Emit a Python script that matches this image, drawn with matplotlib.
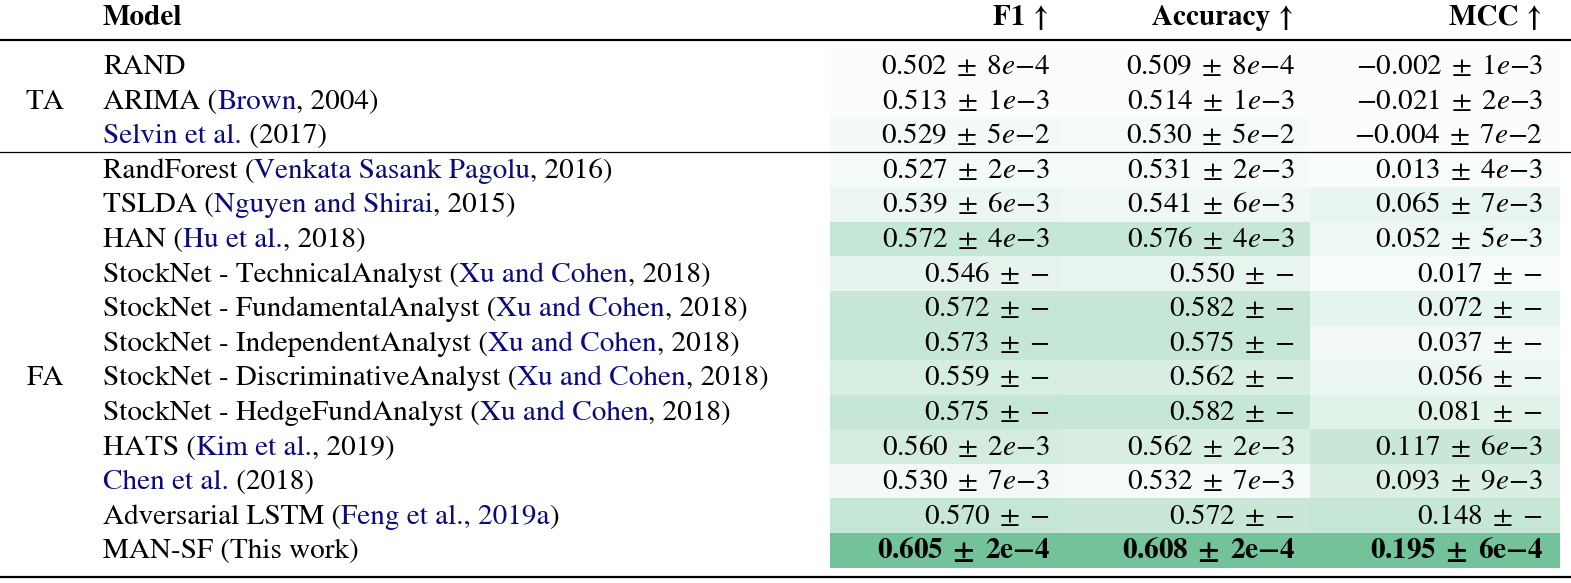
import numpy as np
import matplotlib.pyplot as plt

plt.rcParams['font.family'] = ['STIXGeneral', 'DejaVu Serif']
plt.rcParams['mathtext.fontset'] = 'stix'

# model name pieces: (plain prefix, citation, plain suffix)
models = [
    ("RAND", "", ""),
    ("ARIMA (", "Brown", ", 2004)"),
    ("", "Selvin et al.", " (2017)"),
    ("RandForest (", "Venkata Sasank Pagolu", ", 2016)"),
    ("TSLDA (", "Nguyen and Shirai", ", 2015)"),
    ("HAN (", "Hu et al.", ", 2018)"),
    ("StockNet - TechnicalAnalyst (", "Xu and Cohen", ", 2018)"),
    ("StockNet - FundamentalAnalyst (", "Xu and Cohen", ", 2018)"),
    ("StockNet - IndependentAnalyst (", "Xu and Cohen", ", 2018)"),
    ("StockNet - DiscriminativeAnalyst (", "Xu and Cohen", ", 2018)"),
    ("StockNet - HedgeFundAnalyst (", "Xu and Cohen", ", 2018)"),
    ("HATS (", "Kim et al.", ", 2019)"),
    ("", "Chen et al.", " (2018)"),
    ("Adversarial LSTM (", "Feng et al., 2019a", ")"),
    ("MAN-SF (This work)", "", ""),
]
f1 = [0.502, 0.513, 0.529, 0.527, 0.539, 0.572, 0.546, 0.572, 0.573, 0.559, 0.575, 0.560, 0.530, 0.570, 0.605]
f1_err = ["8e-4", "1e-3", "5e-2", "2e-3", "6e-3", "4e-3", "", "", "", "", "", "2e-3", "7e-3", "", "2e-4"]
acc = [0.509, 0.514, 0.530, 0.531, 0.541, 0.576, 0.550, 0.582, 0.575, 0.562, 0.582, 0.562, 0.532, 0.572, 0.608]
acc_err = ["8e-4", "1e-3", "5e-2", "2e-3", "6e-3", "4e-3", "", "", "", "", "", "2e-3", "7e-3", "", "2e-4"]
mcc = [-0.002, -0.021, -0.004, 0.013, 0.065, 0.052, 0.017, 0.072, 0.037, 0.056, 0.081, 0.117, 0.093, 0.148, 0.195]
mcc_err = ["1e-3", "2e-3", "7e-2", "4e-3", "7e-3", "5e-3", "", "", "", "", "", "6e-3", "9e-3", "", "6e-4"]

W, H = 1571, 583
fig = plt.figure(figsize=(W / 100, H / 100), dpi=100)
ax = fig.add_axes([0, 0, 1, 1])
ax.set_xlim(0, W)
ax.set_ylim(H, 0)
ax.axis('off')
fs = 21
cite = '#0b0b80'

row_y = list(66 + 34.6 * np.arange(15))
cols = [(830, 1062, 1050), (1062, 1310, 1295), (1310, 1560, 1543)]
green = np.array([0.45, 0.76, 0.60])


def fmt(v, e, bold):
    s = f"{v:.3f}"
    if e:
        m, p = e.split('e')
        body = rf"{s}\;\pm\;{m}e{{-}}{p.lstrip('-')}"
    else:
        body = rf"{s}\;\pm\;{{-}}"
    if bold:
        body = rf"\mathbf{{{body}}}"
    return f"${body}$"


# cells
for (x0, x1, xr), vals, errs in zip(cols, [f1, acc, mcc], [f1_err, acc_err, mcc_err]):
    vals = np.array(vals)
    t = (vals - vals.min()) / (vals.max() - vals.min())
    for i, (v, e) in enumerate(zip(vals, errs)):
        a = min(0.03 + 0.97 * t[i] ** 2.2, 0.4) if i < 14 else 1.0
        c = 1 - a * (1 - green)
        ax.add_patch(plt.Rectangle((x0, row_y[i] - 17.3), x1 - x0, 34.6, color=c, lw=0))
        ax.text(xr, row_y[i] + 8, fmt(v, e, i == 14), ha='right', va='baseline', fontsize=fs)

# header
ax.text(103, 25, "Model", fontsize=fs, fontweight='bold', va='baseline')
for (x0, x1, xr), name in zip(cols, ["F1", "Accuracy", "MCC"]):
    ax.text(xr, 25, name + " \u2191", fontsize=fs, fontweight='bold', ha='right', va='baseline')

# rules
ax.plot([0, W], [40, 40], color='k', lw=1.6)
ax.plot([0, W], [152, 152], color='k', lw=0.9)
ax.plot([0, W], [577, 577], color='k', lw=1.6)

ax.text(45, row_y[1] + 8, "TA", fontsize=fs, ha='center', va='baseline')
ax.text(45, row_y[9] + 8, "FA", fontsize=fs, ha='center', va='baseline')

fig.canvas.draw()
r = fig.canvas.get_renderer()
for i, parts in enumerate(models):
    x = 103
    for txt, color in zip(parts, ['k', cite, 'k']):
        if not txt:
            continue
        tt = ax.text(x, row_y[i] + 8, txt, fontsize=fs, color=color, va='baseline')
        x += tt.get_window_extent(r).width

fig.savefig("out.png", dpi=100)
